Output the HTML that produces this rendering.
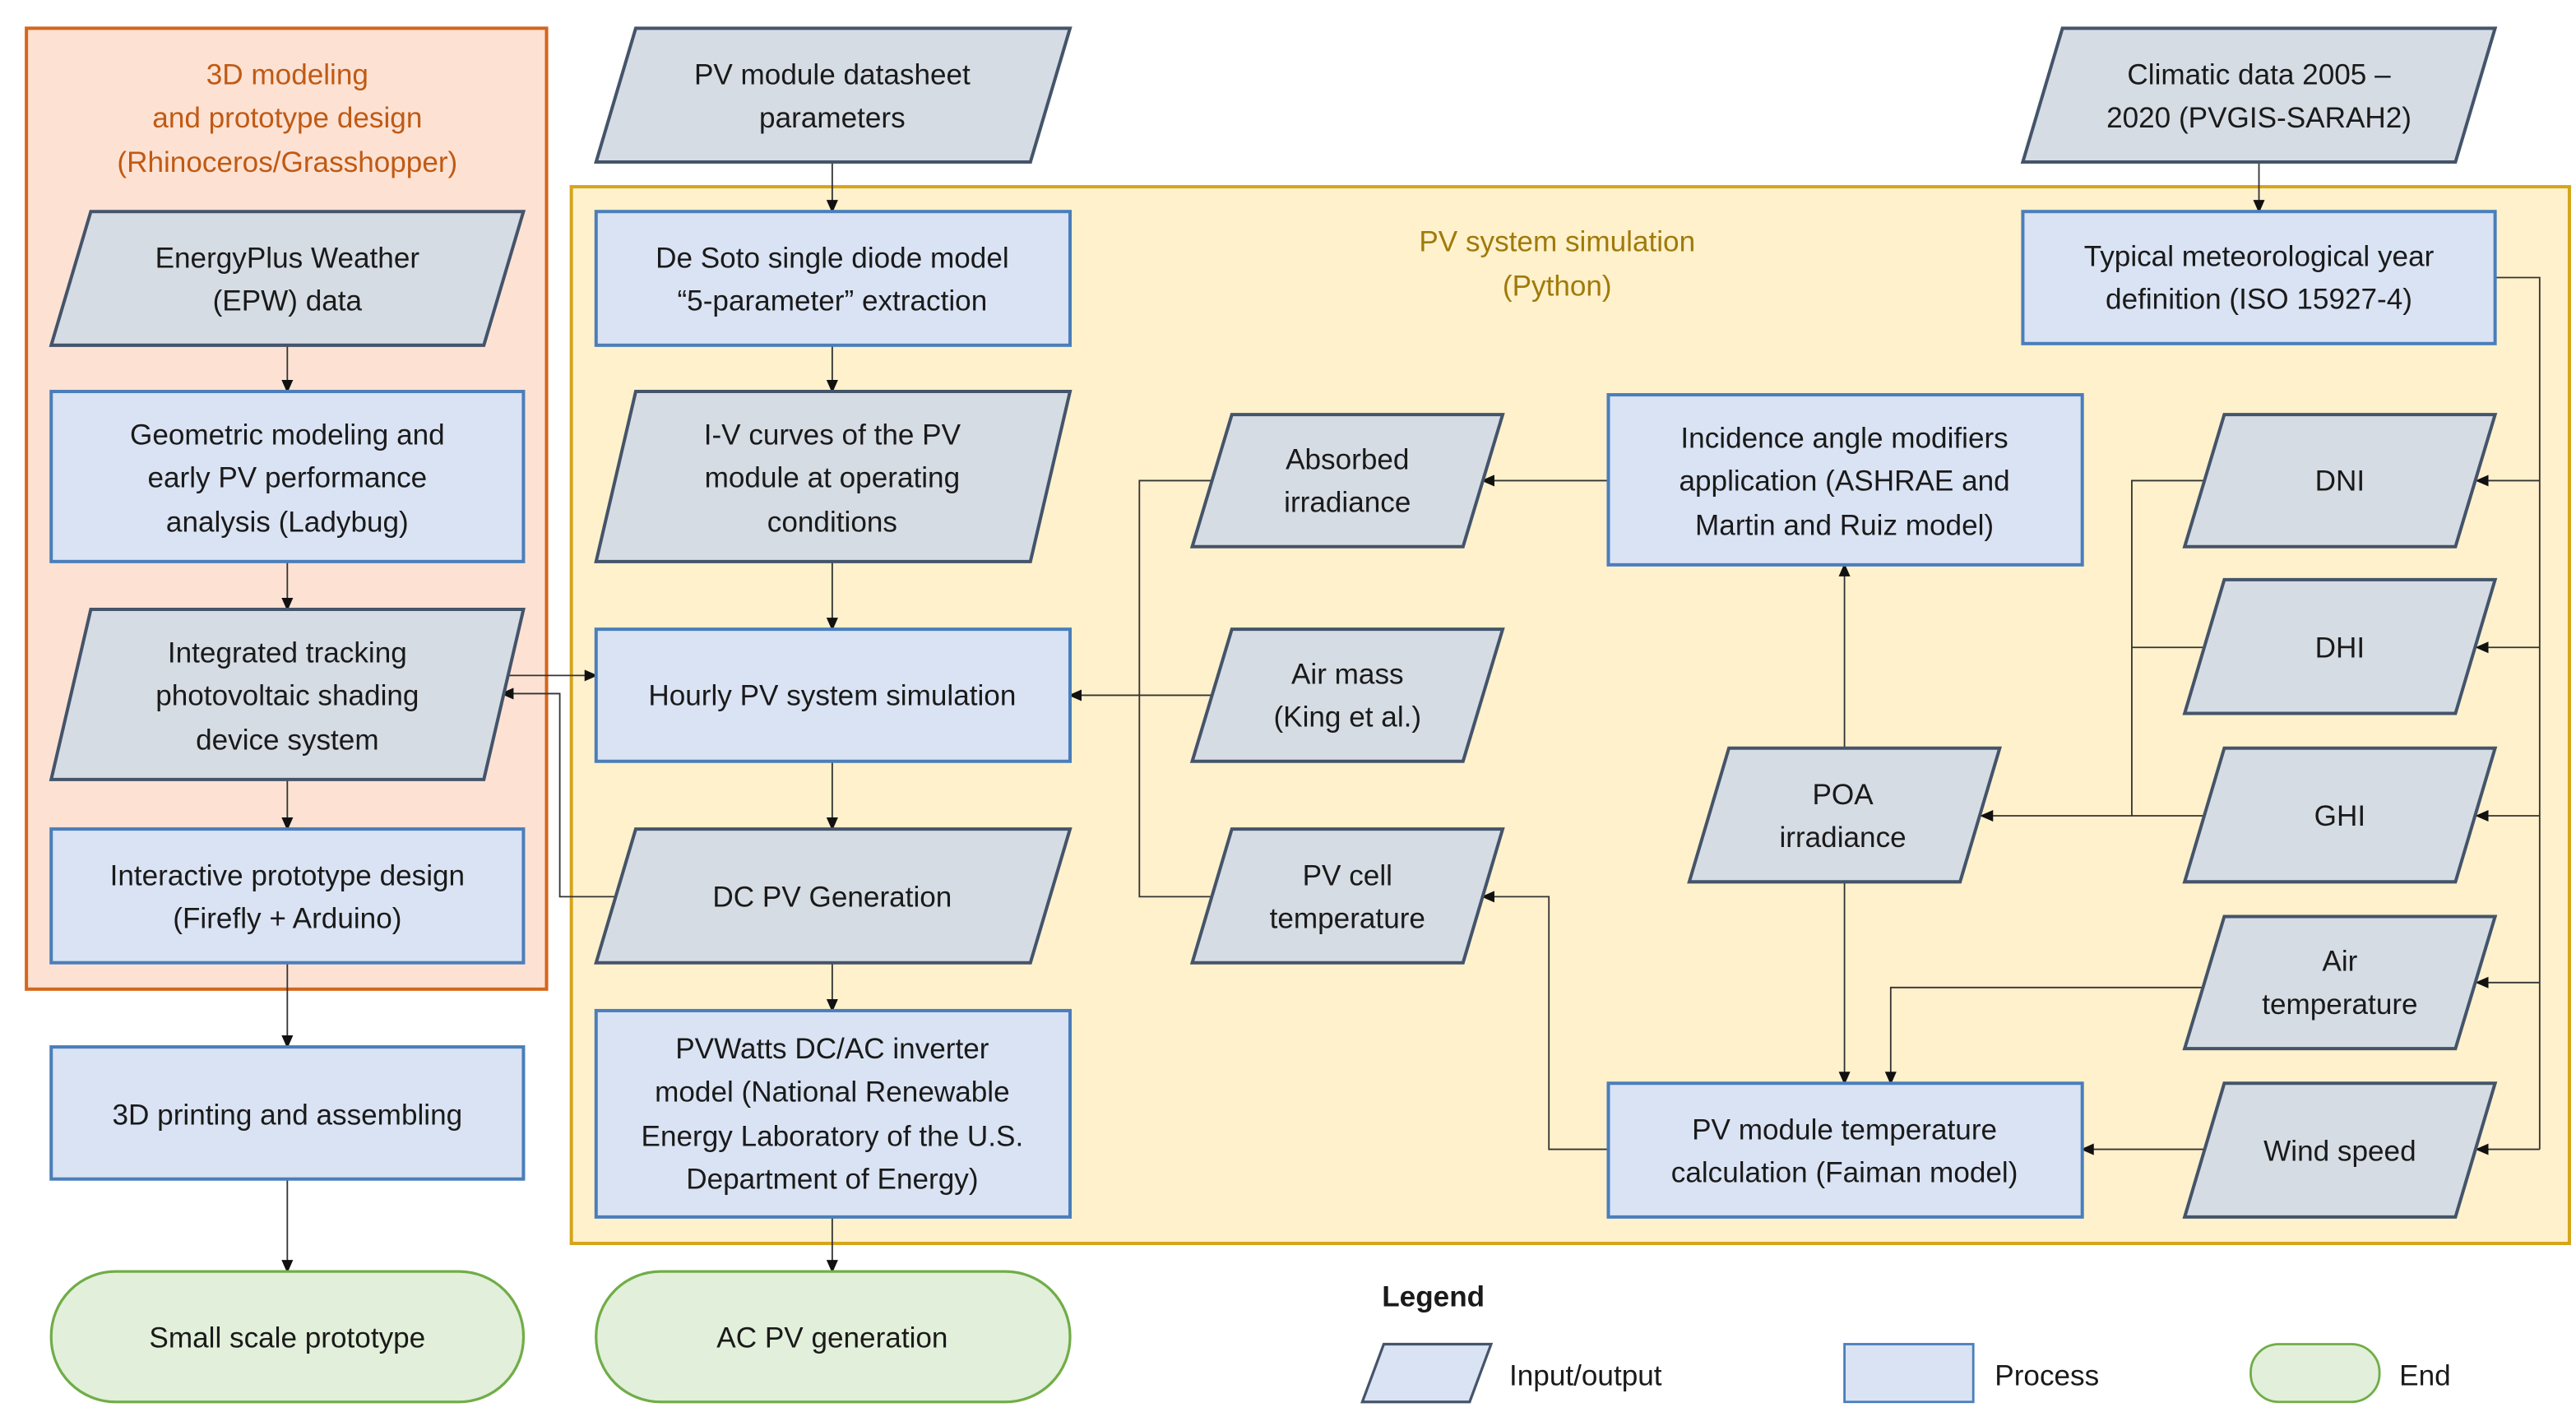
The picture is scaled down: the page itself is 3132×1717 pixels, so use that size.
<!DOCTYPE html>
<html><head><meta charset="utf-8"><style>
html,body{margin:0;padding:0;background:#fff;}
svg{display:block;}
text{font-family:"Liberation Sans",sans-serif;font-size:17.5px;fill:#1a1a1a;text-anchor:middle;}
.pa{fill:#d6dce4;stroke:#44546a;stroke-width:2;}
.pr{fill:#dae3f3;stroke:#4a7ebb;stroke-width:2;}
.te{fill:#e2efda;stroke:#70ad47;stroke-width:1.6;}
.ln{fill:none;stroke:#333;stroke-width:0.9;}
</style></head><body>
<svg width="3132" height="1717" viewBox="0 0 1560 855" xmlns="http://www.w3.org/2000/svg">
<defs><marker id="a" markerWidth="8" markerHeight="8" refX="7" refY="4" orient="auto" markerUnits="userSpaceOnUse"><path d="M0,0.5 L8,4 L0,7.5 z" fill="#111"/></marker></defs>

<!-- containers -->
<rect x="16" y="17" width="315" height="582" fill="#fde2d4" stroke="#d4661c" stroke-width="2"/>
<rect x="346" y="113" width="1210" height="640" fill="#fff1cc" stroke="#d6a51a" stroke-width="2"/>
<text x="174" y="51" style="fill:#c05a14">3D modeling</text>
<text x="174" y="77" style="fill:#c05a14">and prototype design</text>
<text x="174" y="104" style="fill:#c05a14">(Rhinoceros/Grasshopper)</text>
<text x="943" y="152" style="fill:#a07a0a">PV system simulation</text>
<text x="943" y="179" style="fill:#a07a0a">(Python)</text>

<!-- connectors -->
<g class="ln">
<line x1="174" y1="209" x2="174" y2="237" marker-end="url(#a)"/>
<line x1="174" y1="340" x2="174" y2="369" marker-end="url(#a)"/>
<line x1="174" y1="472" x2="174" y2="502" marker-end="url(#a)"/>
<line x1="174" y1="583" x2="174" y2="634" marker-end="url(#a)"/>
<line x1="174" y1="714" x2="174" y2="770" marker-end="url(#a)"/>
<line x1="504" y1="98" x2="504" y2="128" marker-end="url(#a)"/>
<line x1="504" y1="209" x2="504" y2="237" marker-end="url(#a)"/>
<line x1="504" y1="340" x2="504" y2="381" marker-end="url(#a)"/>
<line x1="504" y1="461" x2="504" y2="502" marker-end="url(#a)"/>
<line x1="504" y1="583" x2="504" y2="612" marker-end="url(#a)"/>
<line x1="504" y1="737" x2="504" y2="770" marker-end="url(#a)"/>
<line x1="303" y1="409" x2="361" y2="409" marker-end="url(#a)"/>
<polyline points="373,543 339,543 339,420 304,420" marker-end="url(#a)"/>
<line x1="1368" y1="98" x2="1368" y2="128" marker-end="url(#a)"/>
<polyline points="1511,168 1538,168 1538,696"/>
<line x1="1538" y1="291" x2="1500" y2="291" marker-end="url(#a)"/>
<line x1="1538" y1="392" x2="1500" y2="392" marker-end="url(#a)"/>
<line x1="1538" y1="494" x2="1500" y2="494" marker-end="url(#a)"/>
<line x1="1538" y1="595" x2="1500" y2="595" marker-end="url(#a)"/>
<line x1="1538" y1="696" x2="1500" y2="696" marker-end="url(#a)"/>
<polyline points="1335,291 1291,291 1291,494"/>
<line x1="1335" y1="392" x2="1291" y2="392"/>
<line x1="1335" y1="494" x2="1200" y2="494" marker-end="url(#a)"/>
<polyline points="1335,598 1145,598 1145,656" marker-end="url(#a)"/>
<line x1="1335" y1="696" x2="1261" y2="696" marker-end="url(#a)"/>
<line x1="1117" y1="534" x2="1117" y2="656" marker-end="url(#a)"/>
<line x1="1117" y1="453" x2="1117" y2="342" marker-end="url(#a)"/>
<line x1="974" y1="291" x2="898" y2="291" marker-end="url(#a)"/>
<polyline points="974,696 938,696 938,543 898,543" marker-end="url(#a)"/>
<polyline points="735,291 690,291 690,543 735,543"/>
<line x1="735" y1="421" x2="648" y2="421" marker-end="url(#a)"/>
</g>

<!-- left column -->
<polygon class="pa" points="55,128 317,128 293,209 31,209"/>
<text x="174" y="162">EnergyPlus Weather</text><text x="174" y="188">(EPW) data</text>
<rect class="pr" x="31" y="237" width="286" height="103"/>
<text x="174" y="269">Geometric modeling and</text><text x="174" y="295">early PV performance</text><text x="174" y="322">analysis (Ladybug)</text>
<polygon class="pa" points="55,369 317,369 293,472 31,472"/>
<text x="174" y="401">Integrated tracking</text><text x="174" y="427">photovoltaic shading</text><text x="174" y="454">device system</text>
<rect class="pr" x="31" y="502" width="286" height="81"/>
<text x="174" y="536">Interactive prototype design</text><text x="174" y="562">(Firefly + Arduino)</text>
<rect class="pr" x="31" y="634" width="286" height="80"/>
<text x="174" y="681">3D printing and assembling</text>
<rect class="te" x="31" y="770" width="286" height="79" rx="39"/>
<text x="174" y="816">Small scale prototype</text>

<!-- middle column -->
<polygon class="pa" points="385,17 648,17 624,98 361,98"/>
<text x="504" y="51">PV module datasheet</text><text x="504" y="77">parameters</text>
<rect class="pr" x="361" y="128" width="287" height="81"/>
<text x="504" y="162">De Soto single diode model</text><text x="504" y="188">“5-parameter” extraction</text>
<polygon class="pa" points="385,237 648,237 624,340 361,340"/>
<text x="504" y="269">I-V curves of the PV</text><text x="504" y="295">module at operating</text><text x="504" y="322">conditions</text>
<rect class="pr" x="361" y="381" width="287" height="80"/>
<text x="504" y="427">Hourly PV system simulation</text>
<polygon class="pa" points="385,502 648,502 624,583 361,583"/>
<text x="504" y="549">DC PV Generation</text>
<rect class="pr" x="361" y="612" width="287" height="125"/>
<text x="504" y="641">PVWatts DC/AC inverter</text><text x="504" y="667">model (National Renewable</text><text x="504" y="694">Energy Laboratory of the U.S.</text><text x="504" y="720">Department of Energy)</text>
<rect class="te" x="361" y="770" width="287" height="79" rx="39"/>
<text x="504" y="816">AC PV generation</text>

<!-- column 3 -->
<polygon class="pa" points="746,251 910,251 886,331 722,331"/>
<text x="816" y="284">Absorbed</text><text x="816" y="310">irradiance</text>
<polygon class="pa" points="746,381 910,381 886,461 722,461"/>
<text x="816" y="414">Air mass</text><text x="816" y="440">(King et al.)</text>
<polygon class="pa" points="746,502 910,502 886,583 722,583"/>
<text x="816" y="536">PV cell</text><text x="816" y="562">temperature</text>

<!-- column 4 -->
<rect class="pr" x="974" y="239" width="287" height="103"/>
<text x="1117" y="271">Incidence angle modifiers</text><text x="1117" y="297">application (ASHRAE and</text><text x="1117" y="324">Martin and Ruiz model)</text>
<polygon class="pa" points="1047,453 1211,453 1187,534 1023,534"/>
<text x="1116" y="487">POA</text><text x="1116" y="513">irradiance</text>
<rect class="pr" x="974" y="656" width="287" height="81"/>
<text x="1117" y="690">PV module temperature</text><text x="1117" y="716">calculation (Faiman model)</text>

<!-- right column -->
<polygon class="pa" points="1249,17 1511,17 1487,98 1225,98"/>
<text x="1368" y="51">Climatic data 2005 –</text><text x="1368" y="77">2020 (PVGIS-SARAH2)</text>
<rect class="pr" x="1225" y="128" width="286" height="80"/>
<text x="1368" y="161">Typical meteorological year</text><text x="1368" y="187">definition (ISO 15927-4)</text>
<polygon class="pa" points="1347,251 1511,251 1487,331 1323,331"/>
<text x="1417" y="297">DNI</text>
<polygon class="pa" points="1347,351 1511,351 1487,432 1323,432"/>
<text x="1417" y="398">DHI</text>
<polygon class="pa" points="1347,453 1511,453 1487,534 1323,534"/>
<text x="1417" y="500">GHI</text>
<polygon class="pa" points="1347,555 1511,555 1487,635 1323,635"/>
<text x="1417" y="588">Air</text><text x="1417" y="614">temperature</text>
<polygon class="pa" points="1347,656 1511,656 1487,737 1323,737"/>
<text x="1417" y="703">Wind speed</text>

<!-- legend -->
<text x="868" y="791" style="font-weight:bold;">Legend</text>
<polygon points="838,814 903,814 890,849 825,849" style="fill:#dae3f3;stroke:#44546a;stroke-width:1.6"/>
<text x="914" y="839" style="text-anchor:start">Input/output</text>
<rect x="1117" y="814" width="78" height="35" style="fill:#dae3f3;stroke:#4a7ebb;stroke-width:1.4"/>
<text x="1208" y="839" style="text-anchor:start">Process</text>
<rect x="1363" y="814" width="78" height="35" rx="17" style="fill:#e2efda;stroke:#70ad47;stroke-width:1.4"/>
<text x="1453" y="839" style="text-anchor:start">End</text>
</svg>
</body></html>
